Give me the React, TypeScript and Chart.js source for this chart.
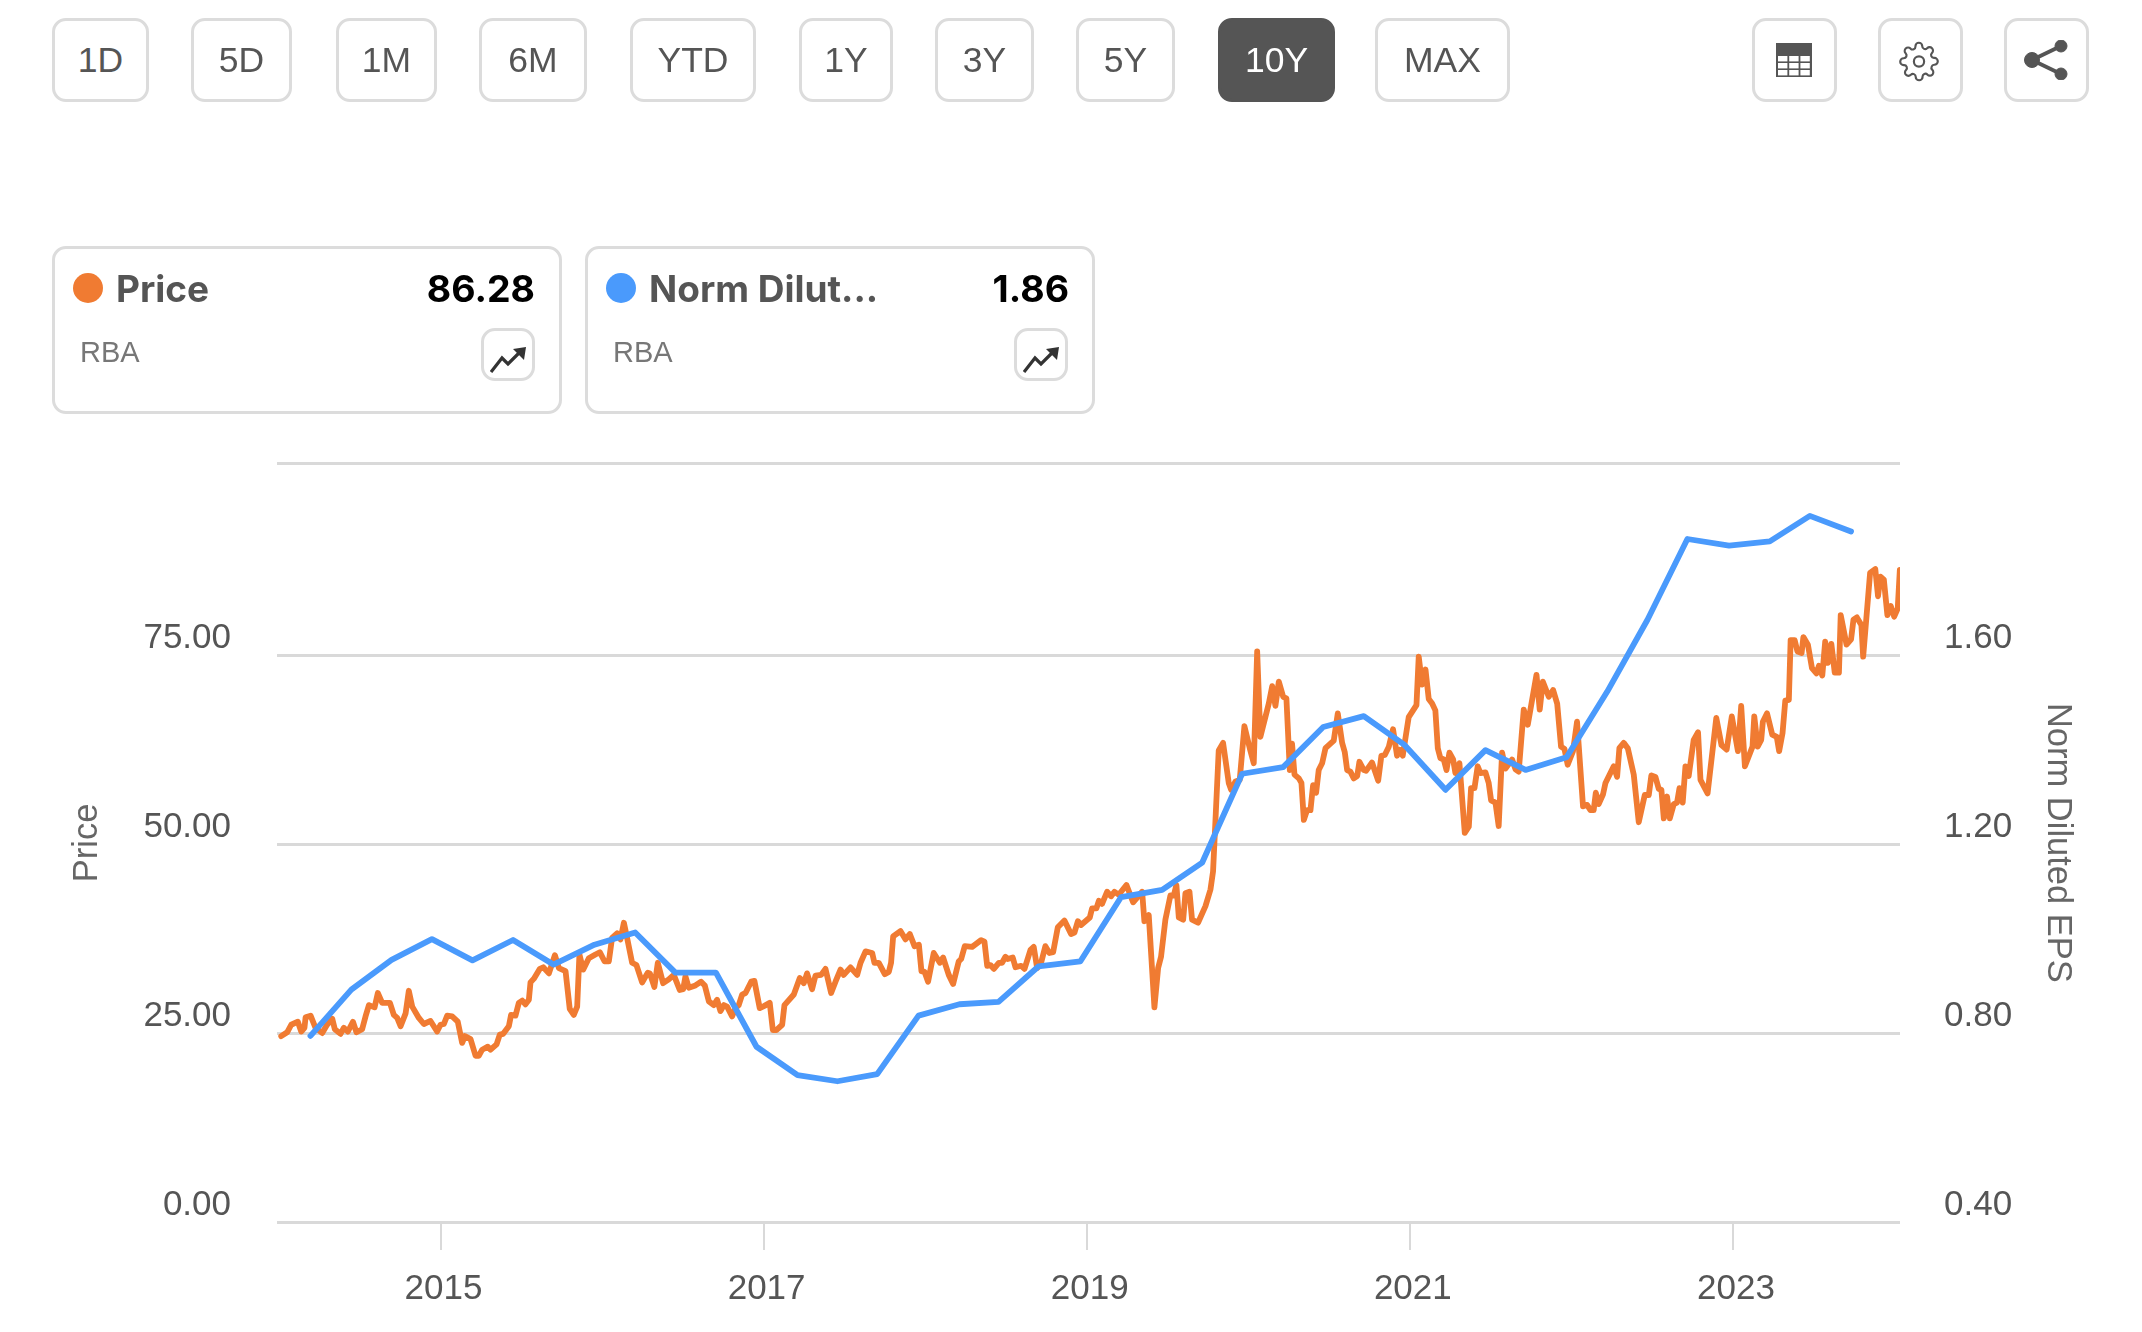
import React, { useEffect, useRef } from "react";
import { Chart, registerables } from "chart.js";

Chart.register(...registerables);

const rangeLabels = ["1D", "5D", "1M", "6M", "YTD", "1Y", "3Y", "5Y", "10Y", "MAX"];
const activeRange = "10Y";
const rangeBoxes = [[52, 149], [191, 292], [336, 437], [479, 587], [630, 756], [799, 893], [935, 1034], [1076, 1175], [1218, 1335], [1375, 1510]];

const xTickYears = [2015, 2017, 2019, 2021, 2023];
const priceTicks = [0, 25, 50, 75, 100.34];

const eps: [number, number][] = [
  [2014.192, 0.794], [2014.445, 0.892], [2014.694, 0.955], [2014.944, 0.999], [2015.195, 0.954], [2015.446, 0.997],
  [2015.696, 0.945], [2015.95, 0.987], [2016.202, 1.013], [2016.451, 0.928], [2016.702, 0.928], [2016.953, 0.771],
  [2017.207, 0.711], [2017.454, 0.698], [2017.7, 0.713], [2017.956, 0.837], [2018.209, 0.861], [2018.451, 0.866],
  [2018.698, 0.941], [2018.958, 0.952], [2019.21, 1.088], [2019.464, 1.103], [2019.712, 1.161], [2019.959, 1.349],
  [2020.213, 1.363], [2020.461, 1.448], [2020.712, 1.471], [2020.964, 1.41], [2021.218, 1.315], [2021.465, 1.399],
  [2021.713, 1.357], [2021.967, 1.384], [2022.219, 1.523], [2022.468, 1.675], [2022.715, 1.846], [2022.973, 1.832],
  [2023.225, 1.841], [2023.473, 1.895], [2023.728, 1.862],
];

const price2014: [number, number][] = [
  [2014.011, 24.6], [2014.048, 25.1], [2014.073, 26.1], [2014.114, 26.5], [2014.135, 25.2], [2014.155, 25.7], [2014.162, 27.1], [2014.193, 27.3],
  [2014.223, 25.7], [2014.265, 25.0], [2014.292, 26.0], [2014.327, 26.9], [2014.343, 25.5], [2014.378, 24.9], [2014.399, 25.7], [2014.424, 25.2],
  [2014.455, 26.5], [2014.477, 25.1], [2014.512, 25.5], [2014.533, 27.2], [2014.554, 28.7], [2014.589, 28.4], [2014.609, 30.3], [2014.636, 29.0],
  [2014.684, 29.0], [2014.708, 27.4], [2014.729, 27.0], [2014.75, 25.9], [2014.781, 27.6], [2014.801, 30.6], [2014.822, 28.5], [2014.863, 27.0],
  [2014.894, 26.2], [2014.935, 26.6], [2014.976, 25.2], [2014.997, 26.1],
];
const price2015: [number, number][] = [
  [2015.018, 26.2], [2015.038, 27.3], [2015.069, 27.2], [2015.104, 26.5], [2015.131, 23.7], [2015.148, 24.6], [2015.183, 24.2], [2015.214, 22.0],
  [2015.234, 22.0], [2015.255, 22.8], [2015.29, 23.2], [2015.307, 22.8], [2015.344, 23.5], [2015.364, 24.8], [2015.385, 24.9], [2015.42, 25.9],
  [2015.434, 27.4], [2015.461, 27.3], [2015.482, 29.0], [2015.503, 29.3], [2015.523, 28.8], [2015.544, 29.4], [2015.554, 31.7], [2015.575, 32.2],
  [2015.612, 33.5], [2015.633, 33.7], [2015.668, 32.9], [2015.705, 35.3], [2015.73, 33.6], [2015.771, 33.2], [2015.797, 28.2], [2015.822, 27.4],
  [2015.843, 28.5], [2015.857, 35.4], [2015.88, 33.4], [2015.915, 34.9], [2015.956, 35.4], [2015.983, 35.7],
];
const price2016: [number, number][] = [
  [2016.012, 34.5], [2016.039, 34.5], [2016.059, 37.6], [2016.09, 38.2], [2016.111, 37.4], [2016.132, 39.6], [2016.152, 37.6], [2016.183, 34.3],
  [2016.21, 34.0], [2016.245, 31.7], [2016.28, 33.0], [2016.293, 32.9], [2016.321, 31.1], [2016.342, 34.3], [2016.375, 31.6], [2016.41, 32.1],
  [2016.441, 32.7], [2016.478, 30.7], [2016.499, 30.8], [2016.513, 32.5], [2016.534, 31.0], [2016.575, 31.3], [2016.61, 31.8], [2016.633, 31.3],
  [2016.658, 29.2], [2016.689, 28.7], [2016.709, 29.4], [2016.73, 27.9], [2016.751, 28.7], [2016.771, 28.5], [2016.802, 27.2], [2016.823, 28.3],
  [2016.843, 28.7], [2016.864, 30.1], [2016.885, 30.3], [2016.92, 31.8], [2016.94, 31.9], [2016.973, 28.3],
];
const price2017: [number, number][] = [
  [2017.002, 28.6], [2017.035, 29.0], [2017.054, 25.4], [2017.076, 25.4], [2017.112, 26.1], [2017.126, 28.7], [2017.184, 30.1], [2017.221, 32.3],
  [2017.246, 31.6], [2017.266, 32.9], [2017.297, 30.8], [2017.318, 32.6], [2017.353, 32.7], [2017.38, 33.5], [2017.415, 30.3], [2017.442, 31.8],
  [2017.473, 33.4], [2017.493, 32.7], [2017.535, 33.7], [2017.576, 32.7], [2017.597, 34.3], [2017.628, 35.8], [2017.669, 35.6], [2017.683, 34.3],
  [2017.71, 34.3], [2017.747, 32.8], [2017.772, 33.1], [2017.786, 34.3], [2017.799, 37.8], [2017.844, 38.5], [2017.875, 37.4], [2017.902, 38.1],
  [2017.931, 36.5], [2017.958, 36.7], [2017.974, 33.2], [2017.993, 33.1],
];
const price2018: [number, number][] = [
  [2018.015, 31.8], [2018.05, 35.6], [2018.088, 34.3], [2018.108, 35.0], [2018.143, 32.7], [2018.17, 31.5], [2018.205, 34.5], [2018.22, 34.8],
  [2018.242, 36.5], [2018.288, 36.4], [2018.343, 37.3], [2018.364, 37.1], [2018.381, 33.9], [2018.401, 34.0], [2018.422, 33.5], [2018.453, 34.3],
  [2018.473, 34.3], [2018.494, 35.1], [2018.508, 34.8], [2018.539, 35.0], [2018.556, 33.7], [2018.591, 33.9], [2018.612, 33.5], [2018.649, 36.0],
  [2018.669, 36.4], [2018.69, 33.6], [2018.711, 34.0], [2018.741, 36.5], [2018.766, 35.6], [2018.789, 35.7], [2018.818, 39.0], [2018.859, 39.9],
  [2018.9, 38.1], [2018.921, 38.3], [2018.942, 39.8], [2018.962, 39.3],
];
const price2019: [number, number][] = [
  [2019.016, 40.3], [2019.03, 41.5], [2019.057, 41.5], [2019.072, 42.5], [2019.092, 42.1], [2019.123, 43.7], [2019.148, 43.1], [2019.169, 43.7],
  [2019.195, 43.3], [2019.243, 44.6], [2019.284, 42.3], [2019.34, 43.7], [2019.354, 39.8], [2019.381, 40.6], [2019.416, 28.4], [2019.439, 33.6],
  [2019.457, 35.1], [2019.484, 40.0], [2019.515, 43.2], [2019.536, 43.2], [2019.552, 44.6], [2019.567, 40.3], [2019.594, 40.0], [2019.608, 43.5],
  [2019.633, 43.7], [2019.649, 40.0], [2019.686, 39.6], [2019.732, 41.8], [2019.763, 44.0], [2019.779, 46.4], [2019.794, 53.2], [2019.814, 62.4],
  [2019.841, 63.4], [2019.876, 58.1], [2019.891, 57.2], [2019.918, 58.3], [2019.944, 58.5], [2019.973, 65.6],
];
const price2020: [number, number][] = [
  [2020.006, 62.7], [2020.031, 60.7], [2020.052, 75.5], [2020.072, 64.2], [2020.124, 68.6], [2020.145, 70.9], [2020.165, 68.3], [2020.186, 71.5],
  [2020.213, 69.5], [2020.233, 69.3], [2020.254, 59.8], [2020.268, 63.3], [2020.283, 59.2], [2020.31, 58.7], [2020.326, 58.1], [2020.341, 53.2],
  [2020.361, 54.5], [2020.382, 54.5], [2020.398, 57.8], [2020.417, 56.8], [2020.433, 59.8], [2020.454, 60.7], [2020.475, 62.7], [2020.526, 63.7],
  [2020.551, 67.3], [2020.578, 63.4], [2020.594, 62.2], [2020.609, 59.8], [2020.629, 59.6], [2020.65, 58.7], [2020.671, 59.0], [2020.685, 60.9],
  [2020.712, 59.8], [2020.726, 59.7], [2020.763, 60.8], [2020.801, 58.4], [2020.821, 61.7], [2020.842, 61.8], [2020.867, 62.9], [2020.893, 65.2],
  [2020.918, 61.7], [2020.933, 62.5], [2020.953, 61.7], [2020.99, 66.8],
];
const price2021: [number, number][] = [
  [2021.038, 68.4], [2021.052, 74.8], [2021.073, 71.1], [2021.094, 73.1], [2021.114, 69.2], [2021.135, 68.6], [2021.155, 67.7], [2021.17, 62.7],
  [2021.186, 61.4], [2021.207, 61.2], [2021.224, 59.8], [2021.242, 62.1], [2021.265, 61.2], [2021.279, 59.4], [2021.304, 60.7], [2021.337, 51.5],
  [2021.362, 52.3], [2021.376, 57.4], [2021.397, 57.4], [2021.417, 60.3], [2021.434, 59.4], [2021.465, 59.5], [2021.485, 58.1], [2021.5, 55.8],
  [2021.527, 55.5], [2021.547, 52.4], [2021.568, 62.1], [2021.589, 60.0], [2021.63, 61.2], [2021.651, 59.9], [2021.671, 59.6], [2021.702, 67.8],
  [2021.727, 65.8], [2021.754, 69.1], [2021.781, 72.4], [2021.801, 67.8], [2021.82, 71.5], [2021.857, 69.5], [2021.884, 70.4], [2021.909, 68.6],
  [2021.933, 62.9], [2021.954, 62.6], [2021.974, 60.5],
];
const price2022: [number, number][] = [
  [2022.007, 62.3], [2022.032, 66.2], [2022.069, 55.0], [2022.094, 55.2], [2022.115, 54.5], [2022.135, 54.5], [2022.148, 56.8], [2022.166, 55.3],
  [2022.193, 56.6], [2022.208, 58.1], [2022.259, 60.3], [2022.28, 58.9], [2022.294, 62.7], [2022.321, 63.4], [2022.346, 62.7], [2022.383, 59.2],
  [2022.414, 52.9], [2022.451, 56.5], [2022.476, 56.5], [2022.492, 59.1], [2022.517, 58.9], [2022.538, 57.3], [2022.554, 57.2], [2022.569, 53.4],
  [2022.589, 56.3], [2022.606, 53.4], [2022.631, 55.3], [2022.651, 55.5], [2022.666, 57.4], [2022.686, 55.5], [2022.703, 60.3], [2022.723, 59.0],
  [2022.754, 63.8], [2022.781, 64.8], [2022.796, 58.5], [2022.84, 56.7], [2022.894, 66.7], [2022.926, 63.1], [2022.958, 62.5], [2022.99, 66.9],
];
const price2023: [number, number][] = [
  [2023.028, 62.3], [2023.048, 68.3], [2023.071, 60.3], [2023.118, 62.9], [2023.129, 66.9], [2023.15, 62.9], [2023.172, 63.8], [2023.182, 66.2],
  [2023.208, 67.3], [2023.24, 64.5], [2023.268, 64.2], [2023.283, 62.3], [2023.304, 64.7], [2023.321, 69.0], [2023.343, 69.1], [2023.354, 77.0],
  [2023.379, 77.0], [2023.396, 75.5], [2023.422, 75.3], [2023.433, 77.4], [2023.461, 76.4], [2023.486, 73.3], [2023.514, 72.6], [2023.529, 73.6],
  [2023.55, 72.3], [2023.568, 76.8], [2023.585, 74.0], [2023.606, 76.5], [2023.627, 72.7], [2023.653, 72.7], [2023.664, 80.3], [2023.7, 76.4],
  [2023.728, 77.1], [2023.743, 79.7], [2023.764, 80.0], [2023.792, 79.0], [2023.803, 74.8], [2023.846, 85.9], [2023.878, 86.4], [2023.895, 82.8],
  [2023.91, 85.4], [2023.931, 85.0], [2023.953, 80.3], [2023.974, 81.5], [2023.995, 80.1], [2024.017, 81.2], [2024.03, 86.28],
];

const priceAll = [...price2014, ...price2015, ...price2016, ...price2017, ...price2018, ...price2019, ...price2020, ...price2021, ...price2022, ...price2023];

const ORANGE = "#F07B32";
const BLUE = "#4A9AFC";
const GRID = "#D9D9D9";
const TEXT = "#555555";
const SANS = '"Liberation Sans", Arial, sans-serif';

function abs(left: number, top: number, width: number, height: number): React.CSSProperties {
  return { position: "absolute", left, top, width, height, boxSizing: "border-box" };
}

function Card({ left, color, name, value, valueLeft }: { left: number; color: string; name: string; value: string; valueLeft: number }) {
  return (
    <>
      <div style={{ ...abs(left - 1, 246, 510, 168), border: "3px solid #DCDCDC", borderRadius: 14 }} />
      <div style={{ ...abs(left + 20, 273, 30, 30), borderRadius: "50%", background: color }} />
      <div style={{ position: "absolute", left: left + 63, top: 266, lineHeight: "44px", font: `700 37px Inter, ${SANS}`, color: TEXT, whiteSpace: "nowrap" }}>{name}</div>
      <div style={{ position: "absolute", left: valueLeft - 200, width: 200, textAlign: "right", top: 266, lineHeight: "44px", font: `700 37.5px Inter, ${SANS}`, color: "#000", whiteSpace: "nowrap" }}>{value}</div>
      <div style={{ position: "absolute", left: left + 27, top: 336, lineHeight: "36px", font: `29px ${SANS}`, color: "#777", whiteSpace: "nowrap" }}>RBA</div>
      <div style={{ ...abs(left + 428, 328, 54, 53), border: "3px solid #DCDCDC", borderRadius: 14 }} />
      <svg style={abs(left + 437, 347, 37, 26)} viewBox="0 0 37 26">
        <path d="M1 25 L12 11 L18 17 L31 4" fill="none" stroke="#333" strokeWidth="3.2" />
        <path d="M23 2 L36 0 L34 13 Z" fill="#333" />
      </svg>
    </>
  );
}

export default function App() {
  const ref = useRef<HTMLCanvasElement | null>(null);
  useEffect(() => {
    document.body.style.margin = "0";
    const yTickFont = { family: SANS, size: 35, lineHeight: 0.955 };
    const xTickFont = { family: SANS, size: 35, lineHeight: 1.14 };
    const titleFont = { family: SANS, size: 34.5, lineHeight: 1.2 };
    const chart = new Chart(ref.current as HTMLCanvasElement, {
      type: "line",
      data: {
        datasets: [
          { label: "Norm Diluted EPS", yAxisID: "y1", data: eps.map(([x, y]) => ({ x, y })), borderColor: BLUE, borderWidth: 5.8, pointRadius: 0, tension: 0, borderJoinStyle: "round", borderCapStyle: "round" },
          { label: "Price", yAxisID: "y", data: priceAll.map(([x, y]) => ({ x, y })), borderColor: ORANGE, borderWidth: 5.8, pointRadius: 0, tension: 0, borderJoinStyle: "round", borderCapStyle: "round", clip: 0 },
        ],
      },
      options: {
        responsive: false,
        animation: false,
        events: [],
        devicePixelRatio: 1,
        layout: { padding: { top: 463.7, left: 0, right: 0, bottom: 0 } },
        plugins: { legend: { display: false }, tooltip: { enabled: false }, title: { display: false } },
        scales: {
          x: {
            type: "linear",
            min: 2013.985,
            max: 2024.031,
            afterBuildTicks: (s: any) => { s.ticks = xTickYears.map((value) => ({ value })); },
            afterFit: (s: any) => { s.height = 110; },
            grid: { drawOnChartArea: false, drawTicks: true, tickLength: 28, tickColor: GRID, tickWidth: 2, color: GRID, lineWidth: 2 },
            border: { display: false },
            ticks: { color: TEXT, font: xTickFont, padding: 19, labelOffset: 2.5, autoSkip: false, maxRotation: 0, callback: (v: any) => String(v) },
          },
          y: {
            position: "left",
            min: 0,
            max: 100.34,
            afterBuildTicks: (s: any) => { s.ticks = priceTicks.map((value) => ({ value })); },
            afterFit: (s: any) => { s.width = 277; },
            grid: { color: GRID, lineWidth: 3, drawTicks: false },
            border: { display: false },
            ticks: { color: TEXT, font: yTickFont, padding: 46, callback: (v: any) => (v >= 100 ? "" : [Number(v).toFixed(2), ""]) },
            title: { display: true, text: "Price", color: "#666", font: titleFont, padding: { top: 66.8, bottom: 0 } },
          },
          y1: {
            position: "right",
            min: 0.4,
            max: 2.0054,
            afterFit: (s: any) => { s.width = 242; },
            grid: { display: false, drawOnChartArea: false, drawTicks: false },
            border: { display: false },
            ticks: { stepSize: 0.4, color: TEXT, font: yTickFont, padding: 44, callback: (v: any) => (v >= 1.99 ? "" : [Number(v).toFixed(2), ""]) },
            title: { display: true, text: "Norm Diluted EPS", color: "#666", font: titleFont, padding: { top: 64.1, bottom: 0 } },
          },
        },
      },
    } as any);
    return () => chart.destroy();
  }, []);

  return (
    <div style={{ position: "relative", width: 2142, height: 1332, overflow: "hidden", background: "#fff" }}>
      <canvas ref={ref} width={2142} height={1332} style={{ position: "absolute", left: 0, top: 0, width: 2142, height: 1332 }} />
      {rangeLabels.map((label, i) => {
        const [l, r] = rangeBoxes[i];
        const on = label === activeRange;
        return (
          <div key={label} style={{ ...abs(l, 18, r - l, 84), border: on ? "3px solid #555" : "3px solid #DCDCDC", borderRadius: 14, background: on ? "#555" : "#fff", color: on ? "#fff" : TEXT, font: `35.5px ${SANS}`, display: "flex", alignItems: "center", justifyContent: "center" }}>{label}</div>
        );
      })}
      <div style={{ ...abs(1752, 18, 85, 84), border: "3px solid #DCDCDC", borderRadius: 14 }} />
      <svg style={abs(1776, 43, 36, 34)} viewBox="0 0 36 34">
        <rect x="0" y="0" width="36" height="34" fill="#555" />
        {[0, 1, 2].flatMap((r) => [0, 1, 2].map((c) => <rect key={`${r}-${c}`} x={2 + c * 11.2} y={13 + r * 7} width={9.4} height={5.4} fill="#fff" />))}
      </svg>
      <div style={{ ...abs(1878, 18, 85, 84), border: "3px solid #DCDCDC", borderRadius: 14 }} />
      <svg style={abs(1898, 41, 42, 41)} viewBox="0 0 24 24" fill="none" stroke="#555" strokeWidth="1.25">
        <circle cx="12" cy="12" r="3" />
        <path d="M19.4 15a1.65 1.65 0 0 0 .33 1.82l.06.06a2 2 0 1 1-2.83 2.83l-.06-.06a1.65 1.65 0 0 0-2.82 1.17V21a2 2 0 0 1-4 0v-.09a1.65 1.65 0 0 0-2.81-1.17l-.06.06a2 2 0 1 1-2.83-2.83l.06-.06a1.65 1.65 0 0 0-1.17-2.82H3a2 2 0 0 1 0-4h.09A1.65 1.65 0 0 0 4.26 7.3l-.06-.06a2 2 0 1 1 2.83-2.83l.06.06a1.65 1.65 0 0 0 2.82-1.17V3a2 2 0 0 1 4 0v.09a1.65 1.65 0 0 0 2.81 1.17l.06-.06a2 2 0 1 1 2.83 2.83l-.06.06a1.65 1.65 0 0 0 1.17 2.82H21a2 2 0 0 1 0 4h-.09A1.65 1.65 0 0 0 19.4 15z" />
      </svg>
      <div style={{ ...abs(2004, 18, 85, 84), border: "3px solid #DCDCDC", borderRadius: 14 }} />
      <svg style={abs(2024, 40, 44, 40)} viewBox="0 0 44 40" fill="#555" stroke="#555">
        <path d="M8 20 L37 6 M8 20 L37 34" strokeWidth="4" fill="none" />
        <circle cx="8" cy="20" r="7.5" />
        <circle cx="37" cy="6" r="6" />
        <circle cx="37" cy="34" r="6" />
      </svg>
      <Card left={53} color={ORANGE} name="Price" value="86.28" valueLeft={535} />
      <Card left={586} color={BLUE} name="Norm Dilut..." value="1.86" valueLeft={1069} />
    </div>
  );
}
